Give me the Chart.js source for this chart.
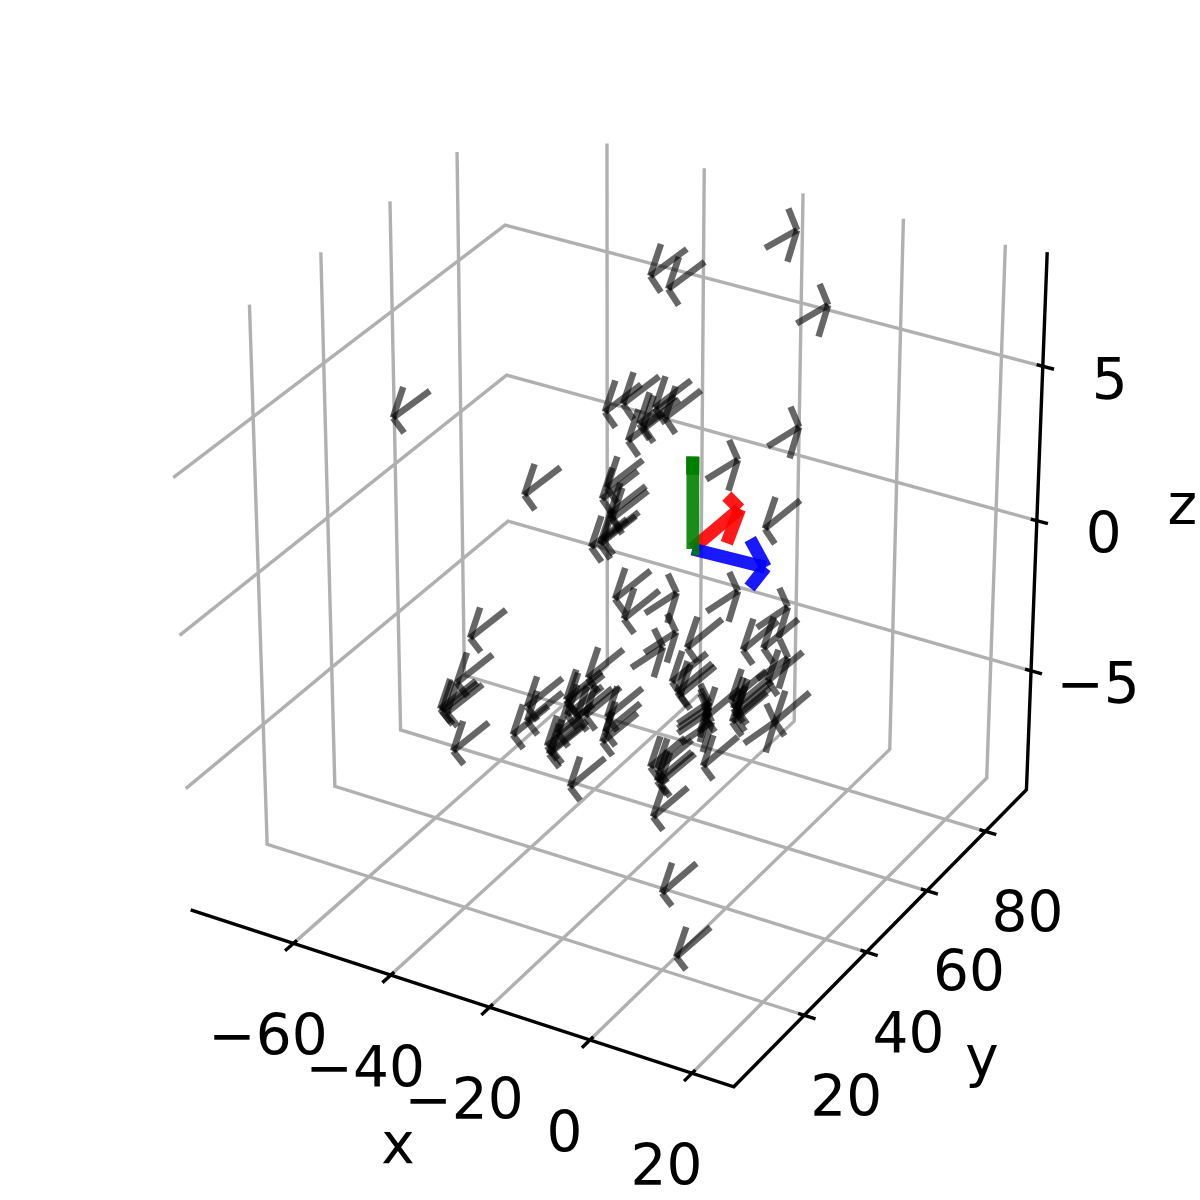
<!DOCTYPE html>
<html>
<head>
<meta charset="utf-8">
<script src="https://cdn.jsdelivr.net/npm/chart.js@4"></script>
<style>html,body{margin:0;background:#fff}</style>
</head>
<body>
<canvas id="myChart" width="1200" height="1200"></canvas>
<script>
const xTicks = [-60, -40, -20, 0, 20];
const yTicks = [20, 40, 60, 80];
const zTicks = [-5, 0, 5];
const xLim = [-81.5, 28.1];
const yLim = [-1.9, 94.4];
const zLim = [-9.06, 8.61];

// arrow tips. depth can't be read from the picture so they all sit on y = tipY
const tipY = 45;
const backX = [-71.0,-19.0,-15.5,-27.9,-24.3,-18.0,-16.0,-20.3,-21.1,-23.3,-44.2,-27.5,-28.5,-26.9,-26.5,-28.9,-30.7,-28.3,3.7,-25.9,-24.1,-11.4,-14.4,-13.3,-12.7,-0.3,3.7,4.7,6.2,-7.7,-2.5,-1.3,-1.7,-2.3,-55.7,-58.6,-62.2,-60.8,-61.8,-59.6,-47.0,-44.0,-44.0,-39.9,-39.5,-38.9,-37.6,-35.7,-33.7,-32.0,-35.9,-31.4,-27.5,-27.9,-28.5,-35.2,-18.7,-17.3,-17.3,-16.7,-18.1,-16.2,-13.2,-8.0,-35.5,-2.1];
const backZ = [3.27,9.94,9.69,5.34,5.75,5.90,5.67,5.20,5.26,4.63,1.97,2.95,2.55,2.14,2.00,1.08,0.90,1.24,3.06,-0.56,-1.13,-1.47,-2.73,-3.01,-3.08,-1.01,-0.76,-1.78,-3.04,-3.59,-2.75,-3.02,-3.27,-3.46,-3.25,-4.89,-5.95,-6.01,-6.00,-7.25,-6.08,-4.99,-5.47,-6.11,-6.36,-6.19,-5.56,-4.86,-4.83,-4.71,-4.37,-3.42,-4.53,-5.05,-5.41,-7.26,-5.76,-5.76,-6.16,-6.20,-7.41,-9.90,-11.95,-5.20,-4.46,-3.00];
const foreX = [9.0,15.1,10.0,-1.7,-13.5,-1.4,8.4,-13.6,-16.2,-6.9,-6.9,-6.3,8.6,6.2,-6.9];
const foreZ = [12.48,10.48,6.53,4.99,0.22,0.84,0.79,-1.06,-1.67,-3.03,-3.35,-3.65,-0.84,-3.04,-3.19];
const backU = [-1, -9.5, -0.1];
const foreU = [-0.3, 10.2, -0.3];

// the three coloured arrows start here
const origin = [-10.5, tipY, 1.77];
const blueU = [13.5, 1.5, -0.1];
const redU = [3, 10, 0.52];
const greenU = [0, 0, 2.93];

// same view as a default mplot3d axes: elev 30, azim -60, dist 10
const SCALE = 6270, CX = 615, CY = 584;
const ELEV = 30 * Math.PI / 180, AZIM = -60 * Math.PI / 180, DIST = 10;
const n = [Math.cos(ELEV) * Math.cos(AZIM), Math.cos(ELEV) * Math.sin(AZIM), Math.sin(ELEV)];
const u = [-n[1], n[0], 0].map(c => c / Math.hypot(n[0], n[1]));
const v = [n[1]*u[2]-n[2]*u[1], n[2]*u[0]-n[0]*u[2], n[0]*u[1]-n[1]*u[0]];
const dot = (a, b) => a[0]*b[0] + a[1]*b[1] + a[2]*b[2];

function project(x, y, z) {
  const p = [(x-xLim[0])/(xLim[1]-xLim[0])-.5, (y-yLim[0])/(yLim[1]-yLim[0])-.5, (z-zLim[0])/(zLim[1]-zLim[0])-.5];
  const d = DIST - dot(n, p);
  return {x: dot(u, p) / d, y: dot(v, p) / d};
}

const datasets = [];
function addLine(pts, color, width, order) {
  datasets.push({data: pts.map(p => project(p[0], p[1], p[2])), borderColor: color, borderWidth: width, order: order,
    showLine: true, pointRadius: 0, borderCapStyle: 'butt', borderJoinStyle: 'miter'});
}

const GRID = '#b0b0b0', THIN = 3.4;
const gridTop = zLim[1] - 0.1;
xTicks.forEach(t => addLine([[t,yLim[0],zLim[0]],[t,yLim[1],zLim[0]],[t,yLim[1],gridTop]], GRID, THIN, 20));
yTicks.forEach(t => addLine([[xLim[1],t,zLim[0]],[xLim[0],t,zLim[0]],[xLim[0],t,gridTop]], GRID, THIN, 20));
zTicks.forEach(t => addLine([[xLim[0],yLim[0],t],[xLim[0],yLim[1],t],[xLim[1],yLim[1],t]], GRID, THIN, 20));

addLine([[xLim[0],yLim[0],zLim[0]],[xLim[1],yLim[0],zLim[0]],[xLim[1],yLim[1],zLim[0]],[xLim[1],yLim[1],zLim[1]]], '#000', THIN, 15);
xTicks.forEach(t => addLine([[t,yLim[0]-2.4,zLim[0]],[t,yLim[0]+1,zLim[0]]], '#000', THIN, 15));
yTicks.forEach(t => addLine([[xLim[1]+2.2,t,zLim[0]],[xLim[1]-1.2,t,zLim[0]]], '#000', THIN, 15));
zTicks.forEach(t => addLine([[xLim[1]+2.2,yLim[1],t],[xLim[1]-1.2,yLim[1],t]], '#000', THIN, 15));

// shaft plus two head strokes, heads turned 15 degrees like quiver does it
function arrow(tip, U, ratio, color, width, order) {
  const tail = [tip[0]-U[0], tip[1]-U[1], tip[2]-U[2]];
  addLine([tail, tip], color, width, order);
  const h = Math.hypot(U[0], U[1]);
  const k = h ? [U[1]/h, -U[0]/h, 0] : [0,0,0];
  const W = U.map(c => -c);
  const kxW = [k[1]*W[2]-k[2]*W[1], k[2]*W[0]-k[0]*W[2], k[0]*W[1]-k[1]*W[0]];
  const c = Math.cos(15*Math.PI/180), s = Math.sin(15*Math.PI/180);
  [1,-1].forEach(sign => {
    addLine([tip, [0,1,2].map(i => tip[i] + ratio*(W[i]*c + sign*kxW[i]*s))], color, width, order);
  });
}

const BLACK = 'rgba(0,0,0,0.6)', MID = 6.5, FAT = 12.8;
backX.forEach((x, i) => arrow([x, tipY, backZ[i]], backU, .3, BLACK, MID, 10));
foreX.forEach((x, i) => arrow([x, tipY, foreZ[i]], foreU, .3, BLACK, MID, 10));
arrow(origin.map((c,i) => c+blueU[i]), blueU, .22, 'rgba(0,0,255,0.9)', FAT, 3);
arrow(origin.map((c,i) => c+redU[i]), redU, .28, 'rgba(255,0,0,0.9)', FAT, 4);
arrow(origin.map((c,i) => c+greenU[i]), greenU, .2, 'rgba(0,128,0,0.9)', FAT, 2);

const axisText = {
  id: 'axisText',
  afterDatasetsDraw(chart) {
    const ctx = chart.ctx, sx = chart.scales.x, sy = chart.scales.y;
    ctx.save();
    ctx.font = '56.5px "DejaVu Sans"';
    ctx.fillStyle = '#000';
    ctx.textAlign = 'center';
    ctx.textBaseline = 'middle';
    const put = (txt, p, dx, dy) => {
      const q = project(p[0], p[1], p[2]);
      ctx.fillText(txt, sx.getPixelForValue(q.x) + dx, sy.getPixelForValue(q.y) + dy);
    };
    const lab = t => String(t).replace('-', '\u2212');
    xTicks.forEach(t => put(lab(t), [t,yLim[0],zLim[0]], -25.5, 97));
    yTicks.forEach(t => put(lab(t), [xLim[1],t,zLim[0]], 42, 86));
    zTicks.forEach(t => put(lab(t), [xLim[1],yLim[1],t], 67, 18));
    put('x', [-30,yLim[0],zLim[0]], -42, 157);
    put('y', [xLim[1],50,zLim[0]], 85, 140);
    put('z', [xLim[1],yLim[1],0.5], 145, 4);
    ctx.restore();
  }
};

new Chart('myChart', {
  type: 'scatter',
  data: {datasets: datasets},
  plugins: [axisText],
  options: {
    responsive: false,
    animation: false,
    layout: {padding: 0},
    plugins: {legend: {display: false}, tooltip: {enabled: false}},
    scales: {
      x: {display: false, min: -CX/SCALE, max: (1200-CX)/SCALE},
      y: {display: false, min: (CY-1200)/SCALE, max: CY/SCALE}
    }
  }
});
</script>
</body>
</html>
